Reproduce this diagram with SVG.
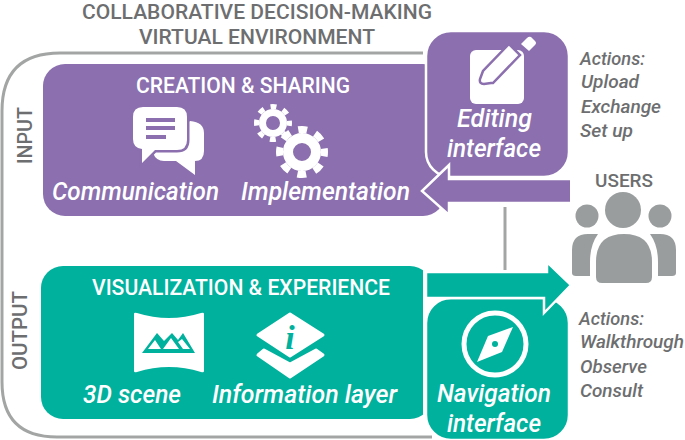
<svg xmlns="http://www.w3.org/2000/svg" width="685" height="440" viewBox="0 0 685 440">
<style>
text{font-family:"Roboto","Liberation Sans",sans-serif}
.t{fill:#6d6e70;font-weight:500;font-size:19.5px}
.h{fill:#fff;font-size:22px;font-weight:500}
.i{fill:#fff;font-style:italic;font-size:25px;font-weight:500}
.a{fill:#6d6e70;font-style:italic;font-weight:500;font-size:18px}
.p{fill:#8b6fae}.g{fill:#00b19d}.w{fill:#fff}.u{fill:#9a9d9e}
.edge{stroke:#fff;stroke-width:2.5}
</style>
<rect width="685" height="440" fill="#fff"/>
<g id="frame">
<path d="M423 53H60Q2 53 2 111V382Q2 437 57 437H432" fill="none" stroke="#a3a5a5" stroke-width="3"/>
<text class="t" x="82" y="18.5" textLength="350" lengthAdjust="spacingAndGlyphs">COLLABORATIVE DECISION-MAKING</text>
<text class="t" x="139" y="44" textLength="236" lengthAdjust="spacingAndGlyphs">VIRTUAL ENVIRONMENT</text>
<text class="t" transform="translate(32 164) rotate(-90)" textLength="57" lengthAdjust="spacingAndGlyphs">INPUT</text>
<text class="t" transform="translate(27 370) rotate(-90)" textLength="79" lengthAdjust="spacingAndGlyphs">OUTPUT</text>
</g>
<g id="connectors">
<path d="M505 207V270" stroke="#a3a5a5" stroke-width="3" fill="none"/>
</g>
<g id="creation-sharing">
<rect class="p" x="43" y="64" width="402" height="152" rx="22"/>
<text class="h" x="136" y="93" textLength="214" lengthAdjust="spacingAndGlyphs">CREATION &amp; SHARING</text>
</g>
<g id="communication">
<path class="w" d="M190 121q14 1 14 12v18q0 10-9 10v14l-19-14h-12q-8 0-11-8z"/>
<path class="w" stroke="#8b6fae" stroke-width="5" paint-order="stroke" d="M143 107h34q10 0 10 10v23q0 10-10 10h-22l-13 13v-14q-9-1-9-10v-22q0-10 10-10z"/>
<path d="M146 118h29v4h-29zM146 126h29v4h-29zM146 135h20v4h-20z" class="p"/>
<text class="i" x="52" y="200" textLength="167" lengthAdjust="spacingAndGlyphs">Communication</text>
</g>
<g id="implementation">
<g fill="none" stroke="#fff">
<circle cx="273" cy="123" r="10.5" stroke-width="7"/>
<circle cx="273" cy="123" r="16.5" stroke-width="5" stroke-dasharray="6 6.96" stroke-dashoffset="3"/>
<circle cx="302" cy="152" r="14" stroke-width="10"/>
<circle cx="302" cy="152" r="22.5" stroke-width="7" stroke-dasharray="9 8.67" stroke-dashoffset="4.5"/>
</g>
<text class="i" x="241" y="200" textLength="169" lengthAdjust="spacingAndGlyphs">Implementation</text>
</g>
<g id="editing-interface">
<rect class="p edge" x="426" y="31" width="143" height="146" rx="25"/>
<rect class="w" x="470" y="50" width="54" height="54" rx="6"/>
<path d="M491 83l-7 1q-5 0-4-5l3-8 26-27 11 11-27 28z" class="w" stroke="#8b6fae" stroke-width="2.5"/>
<path d="M521 44l6-6q2-2 4-1l4 4q2 2 0 4l-6 6z" class="w"/>
<text class="i" x="457" y="127" textLength="75" lengthAdjust="spacingAndGlyphs">Editing</text>
<text class="i" x="447" y="157" textLength="94" lengthAdjust="spacingAndGlyphs">interface</text>
</g>
<g id="input-arrow">
<path class="p edge" d="M570 179H449V165L422 191L449 215V203H570"/>
</g>
<g id="visualization-experience">
<rect class="g" x="41" y="266" width="391" height="153" rx="22"/>
<text class="h" x="92" y="295" textLength="298" lengthAdjust="spacingAndGlyphs">VISUALIZATION &amp; EXPERIENCE</text>
<rect class="w" x="423" y="270" width="14" height="157"/>
</g>
<g id="scene-3d">
<path class="w" d="M134 314q0-2 3-1q32 10 64 0q3-1 3 1v57q0 2-3 1q-32-10-64 0q-3 1-3-1z"/>
<path class="g" d="M142 353L157 333L164 341L172 333L178 340L183 333L195 353Z"/>
<path class="w" d="M148 349l7-9 6 9zM163 349l8-11 8 11zM183 349l-5-7 4-3 8 10z"/>
<text class="i" x="83" y="403" textLength="98" lengthAdjust="spacingAndGlyphs">3D scene</text>
</g>
<g id="information-layer">
<path class="w" stroke="#fff" stroke-width="3" stroke-linejoin="round" d="M290 314L323 335L290 356L258 335Z"/>
<path class="w" stroke="#fff" stroke-width="3" stroke-linejoin="round" d="M258 355L264 350L290 364L316 350L323 355L290 377Z"/>
<text x="290" y="349" text-anchor="middle" style="font-family:'Liberation Serif',serif;font-style:italic;font-weight:700;font-size:34px;fill:#00b19d">i</text>
<text class="i" x="212" y="403" textLength="185" lengthAdjust="spacingAndGlyphs">Information layer</text>
</g>
<g id="navigation-interface">
<rect class="g edge" x="426" y="298" width="143" height="142" rx="25"/>
<circle cx="495" cy="344" r="31" fill="none" stroke="#fff" stroke-width="5"/>
<path class="w" d="M513 327L502 352L477 362L488 336Z"/>
<circle class="g" cx="495" cy="344" r="3"/>
<text class="i" x="437" y="402" textLength="114" lengthAdjust="spacingAndGlyphs">Navigation</text>
<text class="i" x="447" y="432" textLength="94" lengthAdjust="spacingAndGlyphs">interface</text>
</g>
<g id="output-arrow">
<path class="g edge" d="M426 272H547V262L571 285L544 313V298H426Z"/>
</g>
<g id="users">
<text class="t" x="595" y="187" textLength="58" lengthAdjust="spacingAndGlyphs" style="font-size:19px">USERS</text>
<circle class="u" cx="623" cy="210" r="18"/>
<circle class="u" cx="587" cy="216" r="11.5"/>
<circle class="u" cx="660" cy="216" r="11.5"/>
<path class="u" d="M596 277V262Q596 234 624 234Q652 234 652 262V277Q652 283 646 283H602Q596 283 596 277Z"/>
<path class="u" d="M572 273V250Q572 234 588 234H598Q590 245 590 262V276H576Q572 276 572 273Z"/>
<path class="u" d="M676 273V250Q676 234 660 234H650Q658 245 658 262V276H672Q676 276 676 273Z"/>
</g>
<g id="actions-input">
<text class="a" x="580" y="65" textLength="65" lengthAdjust="spacingAndGlyphs">Actions:</text>
<text class="a" x="581" y="88" textLength="58" lengthAdjust="spacingAndGlyphs">Upload</text>
<text class="a" x="581" y="113" textLength="80" lengthAdjust="spacingAndGlyphs">Exchange</text>
<text class="a" x="580" y="137" textLength="53" lengthAdjust="spacingAndGlyphs">Set up</text>
</g>
<g id="actions-output">
<text class="a" x="579" y="325" textLength="65" lengthAdjust="spacingAndGlyphs">Actions:</text>
<text class="a" x="580" y="348" textLength="104" lengthAdjust="spacingAndGlyphs">Walkthrough</text>
<text class="a" x="580" y="373" textLength="67" lengthAdjust="spacingAndGlyphs">Observe</text>
<text class="a" x="580" y="397" textLength="63" lengthAdjust="spacingAndGlyphs">Consult</text>
</g>
</svg>
